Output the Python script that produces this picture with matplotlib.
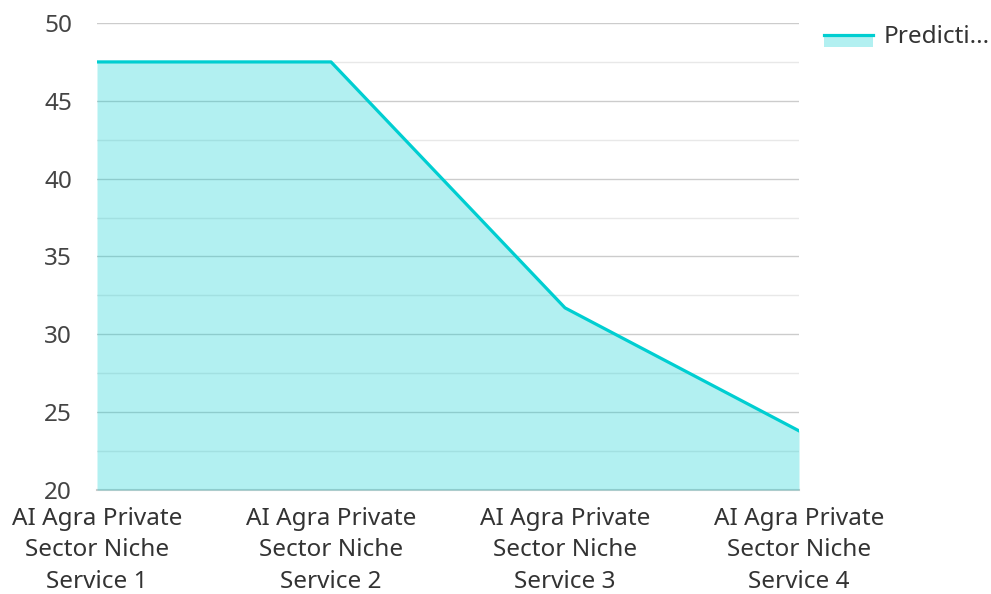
import matplotlib
matplotlib.use("Agg")
import matplotlib.pyplot as plt

categories = ["AI Agra Private\nSector Niche\nService 1", "AI Agra Private\nSector Niche\nService 2",
              "AI Agra Private\nSector Niche\nService 3", "AI Agra Private\nSector Niche\nService 4"]
values = [47.5, 47.5, 31.7, 23.8]
series_name = "Predicti..."
yticks = [20, 25, 30, 35, 40, 45, 50]

plt.rcParams['font.family'] = ['Noto Sans', 'DejaVu Sans']
line_color = "#00CED1"
fs = 17.5

fig = plt.figure(figsize=(9.91, 5.94), dpi=100)
ax = fig.add_axes([97/991, 1 - 490/594, (799-97)/991, (490-23)/594])
x = list(range(len(categories)))
ax.set_xlim(0, len(categories) - 1)
ax.set_ylim(20, 50)
ax.set_yticks(yticks)
ax.set_yticks([22.5, 27.5, 32.5, 37.5, 42.5, 47.5], minor=True)
ax.grid(True, which='major', axis='y', color='#cccccc', linewidth=1.0, zorder=0)
ax.grid(True, which='minor', axis='y', color='#e8e8e8', linewidth=1.0, zorder=0)
ax.axhline(20, color='#cccccc', linewidth=1.5, zorder=0, clip_on=False)
ax.set_axisbelow(True)
ax.fill_between(x, values, 20, color=line_color, alpha=0.3, linewidth=0, zorder=1)
ax.plot(x, values, color=line_color, linewidth=2.3, zorder=3)
for s in ax.spines.values():
    s.set_visible(False)
ax.set_xticks(x)
ax.set_xticklabels(categories, fontsize=fs, color='#333333', linespacing=1.42)
ax.tick_params(axis='x', length=0, pad=12)
ax.tick_params(axis='y', which='both', length=0, pad=18, labelsize=fs, labelcolor='#444444')

from matplotlib.patches import Rectangle
from matplotlib.lines import Line2D
# legend handle: fill patch with line on top
fig.patches.append(Rectangle((824/991, 1 - 47/594), 49/991, 13/594, transform=fig.transFigure,
                             facecolor=line_color, alpha=0.3, edgecolor='none'))
fig.lines.append(Line2D([824/991, 873/991], [1 - 35/594, 1 - 35/594], transform=fig.transFigure,
                        color=line_color, linewidth=2.3))
fig.text(884/991, 1 - 37/594, series_name, fontsize=fs, color='#333333', va='center', ha='left')

fig.savefig("out.png", dpi=100)
